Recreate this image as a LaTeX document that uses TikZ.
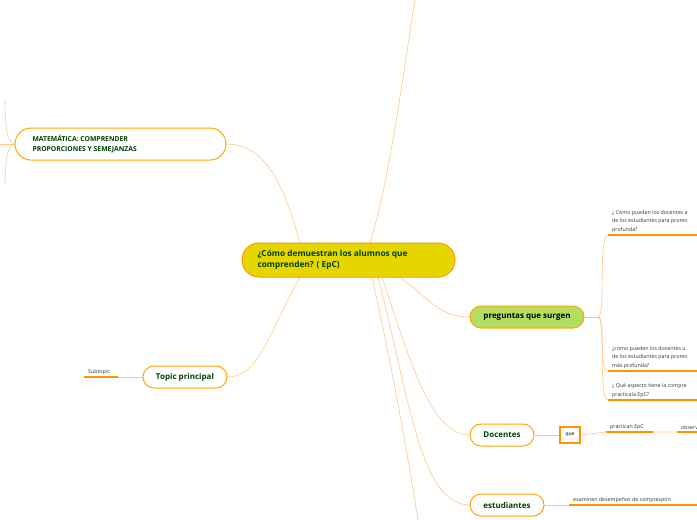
\documentclass[tikz,border=0pt]{standalone}
\usepackage{fontspec}
\setmainfont{Open Sans}
\definecolor{cfill}{HTML}{E5D600}
\definecolor{gfill}{HTML}{B2DE62}
\begin{document}
\begin{tikzpicture}[x=1pt,y=-1pt,
  con/.style={draw=orange!45,line width=0.6pt},
  ul/.style={draw=orange!85!yellow,line width=1.3pt},
  box/.style={draw=orange!70!yellow,line width=1pt,rounded corners=11pt,fill=white},
  bt/.style={font=\bfseries\fontsize{8}{10}\selectfont,text=green!25!black,anchor=west,align=left},
  st/.style={font=\fontsize{5.3}{8.5}\selectfont,text=black!80,anchor=south west,align=left,inner xsep=0,inner ysep=1.5pt}]
\useasboundingbox (0,0) rectangle (697,520);
\clip (0,0) rectangle (697,520);
% connectors from center
\coordinate (top) at (415,0);
\coordinate (bot) at (418,520);
\draw[con] (300,243) .. controls (280,170) and (260,145) .. (226,144);
\draw[con] (370,243) .. controls (390,180) and (405,60) .. (top);
\draw[con] (300,277) .. controls (270,330) and (260,377) .. (227,377);
\draw[con] (400,277) .. controls (430,300) and (440,317) .. (470,317);
\draw[con] (382,277) .. controls (410,360) and (430,435) .. (470,435);
\draw[con] (378,277) .. controls (410,400) and (420,505) .. (470,505);
\draw[con] (372,277) .. controls (395,380) and (410,470) .. (bot);
\draw[con] (143,377) -- (118,377);
\draw[con] (15,144) -- (0,144);
\draw[con] (15,144) .. controls (8,144) and (5,130) .. (5,100);
\draw[con] (15,144) .. controls (8,144) and (5,160) .. (5,185);
% preguntas branches
\draw[con] (584,317) -- (598,317);
\draw[con] (598,317) .. controls (606,317) and (598,235) .. (608,235);
\draw[con] (598,317) .. controls (606,317) and (598,371) .. (608,371);
\draw[con] (598,317) .. controls (606,317) and (598,400) .. (608,400);
\draw[con] (534,435) -- (560,435);
\draw[con] (580,435) -- (606,432) (653,432) -- (677,432);
\draw[con] (544,505) -- (569,505);
% nodes
\draw[box,draw=orange!80!yellow,fill=cfill,rounded corners=17pt] (242,243) rectangle (455,277);
\node[bt,font=\bfseries\fontsize{8.3}{11}\selectfont] (center) at (254,260) {¿Cómo demuestran los alumnos que\\comprenden? ( EpC)};
\draw[box,rounded corners=16pt] (15,128) rectangle (226,160);
\node[bt,font=\bfseries\fontsize{6.8}{9.5}\selectfont] (mat) at (29,144) {MATEMÁTICA: COMPRENDER\\PROPORCIONES Y SEMEJANZAS};
\draw[box] (143,366) rectangle (227,388);
\node[bt,anchor=center] (topic) at (185,377) {Topic principal};
\draw[box,fill=gfill] (470,306) rectangle (584,328);
\node[bt,anchor=center,text=black] (preg) at (527,317) {preguntas que surgen};
\draw[box] (470,424) rectangle (534,446);
\node[bt,anchor=center] (doc) at (502,435) {Docentes};
\draw[box] (470,494) rectangle (544,516);
\node[bt,anchor=center] (est) at (507,505) {estudiantes};
\draw[ul,line width=1.6pt] (560,427) rectangle (580,443);
\node[font=\fontsize{5}{6}\selectfont] (que) at (570,435) {que};
% underlined items
\node[st] (q1) at (612,234) {¿ Cómo pueden los docentes a\\de los estudiantes para promo\\profunda?};
\draw[ul] (608,235) -- (697,235);
\node[st] (q2) at (612,370) {¿cómo pueden los docentes u\\de los estudiantes para promo\\más profunda?};
\draw[ul] (608,371) -- (697,371);
\node[st] (q3) at (612,399) {¿ Qué aspecto tiene la compre\\practicala EpC?};
\draw[ul] (608,400) -- (697,400);
\node[st] (p1) at (610,431) {practican EpC};
\draw[ul] (606,432) -- (653,432);
\node[st] (p2) at (681,431) {observ};
\draw[ul] (677,432) -- (697,432);
\node[st] (e1) at (573,504) {examinen desempeños de compresp\'on};
\draw[ul] (569,505) -- (697,505);
\node[st] (s1) at (88,376) {Subtopic};
\draw[ul] (84,377) -- (118,377);
\end{tikzpicture}
\end{document}
